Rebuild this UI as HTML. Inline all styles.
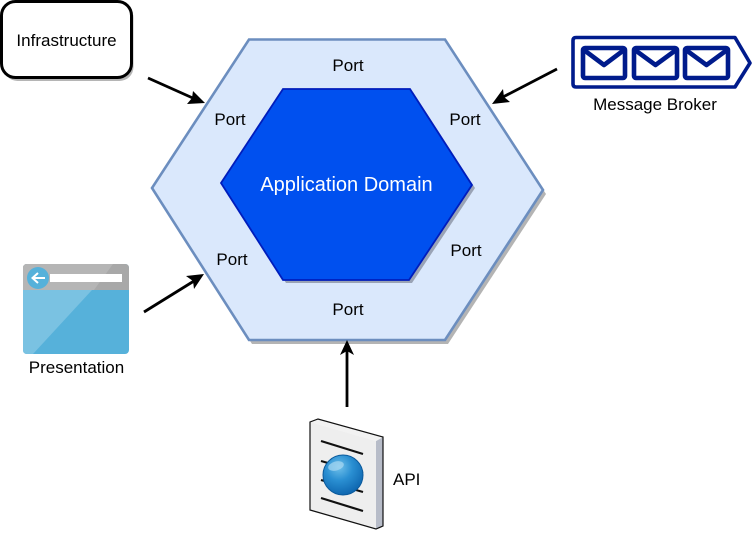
<!DOCTYPE html>
<html>
<head>
<meta charset="utf-8">
<style>
html,body{margin:0;padding:0;background:#fff;width:752px;height:533px;overflow:hidden}
svg{display:block}
text{font-family:"Liberation Sans",Arial,sans-serif;fill:#000;font-size:17px}
</style>
</head>
<body>
<svg width="752" height="533" viewBox="0 0 752 533" xmlns="http://www.w3.org/2000/svg">
<defs>
<radialGradient id="ball" cx="0.4" cy="0.3" r="0.75">
<stop offset="0" stop-color="#6fc0ea"/>
<stop offset="0.45" stop-color="#2a8fd2"/>
<stop offset="1" stop-color="#0b62ac"/>
</radialGradient>
</defs>

<!-- Infrastructure -->
<rect x="3.500" y="4" width="130" height="77" rx="14" fill="#b5b5b5"/>
<rect x="1.500" y="1.500" width="130" height="76" rx="14" fill="#fff" stroke="#000" stroke-width="3"/>
<text x="66.500" y="46" text-anchor="middle">Infrastructure</text>

<!-- Outer hexagon -->
<polygon points="252,43 448,43 546,194 448,344 252,344 155,192" fill="#b4b4b4"/>
<polygon points="249,39.500 445,39.500 543,190 445,340 249,340 152,188" fill="#dae8fc" stroke="#6c8ebf" stroke-width="2.600" stroke-linejoin="miter"/>

<!-- Inner hexagon -->
<polygon points="286,92 413,92 475,188 412,283 286,283 224,186" fill="#9aa3b5"/>
<polygon points="283,89 410,89 472,185 409,280 283,280 221,183" fill="#0050ef" stroke="#001dbc" stroke-width="1.800"/>
<text x="346.500" y="191" text-anchor="middle" style="fill:#fff;font-size:20px">Application Domain</text>

<!-- Port labels -->
<text x="348" y="71" text-anchor="middle">Port</text>
<text x="230" y="125" text-anchor="middle">Port</text>
<text x="465" y="125" text-anchor="middle">Port</text>
<text x="466" y="256" text-anchor="middle">Port</text>
<text x="232" y="265" text-anchor="middle">Port</text>
<text x="348" y="315" text-anchor="middle">Port</text>

<!-- Arrows -->
<g stroke="#000" stroke-width="2.800" fill="none">
<line x1="148" y1="78" x2="195" y2="99"/>
<line x1="557" y1="69" x2="503" y2="97"/>
<line x1="144" y1="312" x2="194" y2="281"/>
<line x1="347" y1="407" x2="347" y2="350"/>
</g>
<g fill="#000">
<polygon points="205,103 187,104 192,98 193,91"/>
<polygon points="492,104 503,89 504,97 510,102"/>
<polygon points="204,274 194,289 193,281 186,276"/>
<polygon points="347,340 354,355 347,351 340,355"/>
</g>

<!-- Message Broker -->
<path d="M576,37.500 H735 L750,63 L735,87 H576 Q573,87 573,84 V40.500 Q573,37.500 576,37.500 Z" fill="#fff" stroke="#001b8c" stroke-width="3.600" stroke-linejoin="round"/>
<g fill="#fff" stroke="#001b8c" stroke-width="4.600" stroke-linejoin="round">
<rect x="583" y="48" width="42" height="30" rx="2"/>
<rect x="634" y="48" width="43" height="30" rx="2"/>
<rect x="685" y="48" width="43" height="30" rx="2"/>
<polyline points="584,50 604,65 624,50" fill="none"/>
<polyline points="635,50 655.500,65 676,50" fill="none"/>
<polyline points="686,50 706.500,65 727,50" fill="none"/>
</g>
<text x="655" y="110" text-anchor="middle">Message Broker</text>

<!-- Presentation -->
<rect x="23" y="264" width="106" height="90" rx="4" fill="#56b1da"/>
<path d="M23,290 H92 L33,354 H27 Q23,354 23,350 Z" fill="#7ac2e2"/>
<path d="M27,264 H125 Q129,264 129,268 V290 H23 V268 Q23,264 27,264 Z" fill="#a8a8a8"/>
<path d="M23,290 V268 Q23,264 27,264 H113 L94,290 Z" fill="#b5b5b5"/>
<rect x="50" y="274" width="72" height="8" fill="#fff"/>
<circle cx="38" cy="278" r="11" fill="#56b1da"/>
<path d="M45,278 H33 M38,273 L32.500,278 L38,283" stroke="#fff" stroke-width="2" fill="none"/>
<text x="76.500" y="373" text-anchor="middle">Presentation</text>

<!-- API -->
<polygon points="376,441 383,437 383,526 376,529" fill="#b7bcc8"/>
<polygon points="310,422 318,419 383,437 376,441" fill="#f2f2f2"/>
<polygon points="310,422 376,441 376,529 310,510" fill="#eeeeee"/>
<path d="M310,510 V422 L318,419 L383,437 V526 L376,529 Z" fill="none" stroke="#111" stroke-width="1.200"/>
<g stroke="#111" stroke-width="2.200">
<line x1="321" y1="441" x2="363" y2="454"/>
<line x1="321" y1="461" x2="363" y2="473"/>
<line x1="321" y1="480" x2="363" y2="492"/>
<line x1="321" y1="498" x2="363" y2="511"/>
</g>
<circle cx="343" cy="475" r="20" fill="url(#ball)" stroke="#0b5a9c" stroke-width="1"/>
<ellipse cx="336" cy="466" rx="8" ry="4.500" fill="#a9d9f2" opacity="0.7" transform="rotate(-15 336 466)"/>
<text x="393" y="485">API</text>
</svg>
</body>
</html>
